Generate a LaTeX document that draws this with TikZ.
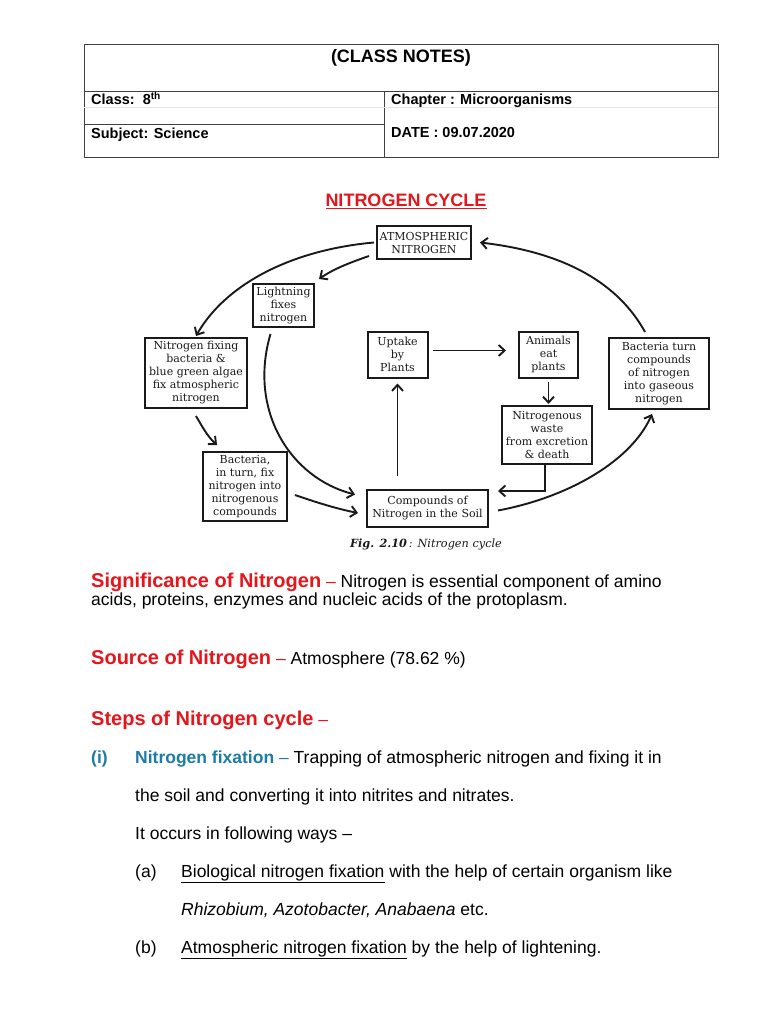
\documentclass[tikz,border=0pt]{standalone}
\usepackage{fontspec}
\setmainfont{Liberation Sans}
\newfontfamily\dfont{DejaVu Serif}
\usetikzlibrary{arrows.meta,calc}
\definecolor{hred}{HTML}{E4161B}
\definecolor{hblue}{HTML}{1E7BA6}
\definecolor{ink}{HTML}{1A1A1A}
\tikzset{
  box/.style={draw=ink,line width=2pt,inner sep=0pt,align=center,
    font=\dfont\fontsize{11}{13}\selectfont,text=ink},
  arr/.style={draw=ink,line width=1.9pt,-{Straight Barb[length=6pt,width=11pt,line width=1.9pt]}},
  hdr/.style={inner sep=0pt,anchor=base west,font=\bfseries\fontsize{14.5}{16}\selectfont},
  body/.style={inner sep=0pt,anchor=base west,font=\fontsize{17.5}{19}\selectfont},
  grid/.style={draw=black!75,line width=1pt}
}
\begin{document}
\begin{tikzpicture}[x=1pt,y=-1pt]
\useasboundingbox[fill=white] (0,0) rectangle (768,1024);
% header table
\draw[grid] (84,45) rectangle (718,158);
\draw[grid] (84,92) -- (718,92);
\draw[grid] (384,92) -- (384,158);
\draw[grid] (84,125) -- (384,125);
\draw[black!10,line width=0.6pt] (84,107) -- (718,107);
\node[inner sep=0pt,anchor=base,font=\bfseries\fontsize{18}{20}\selectfont] (hcn) at (401,62.5) {(CLASS NOTES)};
\node[hdr] (hcl) at (91,105) {Class:\ \ 8\textsuperscript{th}};
\node[hdr] (hsu) at (91,138.5) {Subject: Science};
\node[hdr] (hch) at (391,105) {Chapter : Microorganisms};
\node[hdr] (hda) at (391,137.5) {DATE : 09.07.2020};
% title
\node[inner sep=0pt,anchor=base,text=hred,font=\bfseries\fontsize{18}{20}\selectfont] (title) at (406,206.5) {\underline{NITROGEN CYCLE}};
% diagram boxes
\node[box,minimum width=94pt,minimum height=33pt] (atm) at (424,242.5) {ATMOSPHERIC\\NITROGEN};
\node[box,minimum width=61pt,minimum height=43pt] (light) at (283.5,305.5) {Lightning\\fixes\\nitrogen};
\node[box,minimum width=102pt,minimum height=70pt] (nfix) at (196,373) {Nitrogen fixing\\bacteria \&\\blue green algae\\fix atmospheric\\nitrogen};
\node[box,minimum width=84pt,minimum height=69pt] (bact) at (245,486.5) {Bacteria,\\in turn, fix\\nitrogen into\\nitrogenous\\compounds};
\node[box,minimum width=60pt,minimum height=46pt] (uptake) at (397.5,354.5) {Uptake\\by\\Plants};
\node[box,minimum width=59pt,minimum height=46pt] (animals) at (548.5,354.5) {Animals\\eat\\plants};
\node[box,minimum width=100pt,minimum height=71pt] (bturn) at (659,373.5) {Bacteria turn\\compounds\\of nitrogen\\into gaseous\\nitrogen};
\node[box,minimum width=90pt,minimum height=58pt] (waste) at (547,435) {Nitrogenous\\waste\\from excretion\\\& death};
\node[box,minimum width=121pt,minimum height=37pt] (soil) at (427.5,508.5) {Compounds of\\Nitrogen in the Soil};
\node[inner sep=0pt,anchor=base,text=ink,font=\dfont\itshape\fontsize{11.3}{13}\selectfont] (cap) at (426,547.5) {{\bfseries Fig. 2.10}\,: Nitrogen cycle};
% connectors
\draw[arr] ([xshift=-2pt]atm.west) .. controls (290,250) and (225,285) .. ([yshift=1pt]nfix.north);
\draw[arr] ([xshift=-7pt,yshift=4pt]atm.south west) .. controls (352,262) and (335,268) .. ([xshift=4pt,yshift=4pt]light.north east);
\draw[arr] ([xshift=-13pt,yshift=-6pt]light.south) .. controls (248,410) and (290,478) .. ([xshift=-11pt,yshift=14pt]soil.west);
\draw[arr] ([yshift=-7pt]nfix.south) .. controls (203,428) and (208,437) .. ([xshift=15pt,yshift=6pt]bact.north west);
\draw[arr] ([xshift=7pt,yshift=-8.5pt]bact.east) .. controls (318,503) and (338,509) .. ([xshift=-8pt,yshift=-4.5pt]soil.west);
\draw[arr] ($(uptake.south |- soil.north)+(0,-13)$) -- ([yshift=-5pt]uptake.south);
\draw[arr] ([xshift=4pt,yshift=4pt]uptake.east) -- ([xshift=-12pt,yshift=4pt]animals.west);
\draw[arr] ([yshift=-3pt]animals.south) -- ([yshift=1pt]animals.south |- waste.north);
\draw[arr] ([xshift=-2pt]waste.south) |- ([xshift=9pt,yshift=-2pt]soil.north east);
\draw[arr] ([xshift=9pt,yshift=-2pt]soil.east) .. controls (570,497) and (632,460) .. ([xshift=-7pt,yshift=-4pt]bturn.south);
\draw[arr] ([xshift=-14pt,yshift=5pt]bturn.north) .. controls (612,272) and (545,250) .. ([xshift=8pt]atm.east);
% body text
\node[body] (s1) at (91,587) {{\color{hred}\bfseries\fontsize{20}{22}\selectfont Significance of Nitrogen}\ {\color{hred}--}\ Nitrogen is essential component of amino};
\node[body] (s2) at (91,605) {acids, proteins, enzymes and nucleic acids of the protoplasm.};
\node[body] (s3) at (91,664) {{\color{hred}\bfseries\fontsize{20}{22}\selectfont Source of Nitrogen}\ {\color{hred}--}\ Atmosphere (78.62 \%)};
\node[body] (s4) at (91,725) {{\color{hred}\bfseries\fontsize{20}{22}\selectfont Steps of Nitrogen cycle}\ {\color{hred}--}};
\node[body,text=hblue,font=\bfseries\fontsize{17.5}{19}\selectfont] (s5a) at (91,763) {(i)};
\node[body] (s5) at (135,763) {{\color{hblue}\bfseries Nitrogen fixation}\ {\color{hblue}--}\ Trapping of atmospheric nitrogen and fixing it in};
\node[body] (s6) at (135,801) {the soil and converting it into nitrites and nitrates.};
\node[body] (s7) at (135,839) {It occurs in following ways --};
\node[body] (s8a) at (135,877) {(a)};
\node[body] (s8) at (181,877) {\underline{Biological nitrogen fixation} with the help of certain organism like};
\node[body] (s9) at (181,915) {\textit{Rhizobium, Azotobacter, Anabaena} etc.};
\node[body] (s10a) at (135,953) {(b)};
\node[body] (s10) at (181,953) {\underline{Atmospheric nitrogen fixation} by the help of lightening.};
\end{tikzpicture}
\end{document}
